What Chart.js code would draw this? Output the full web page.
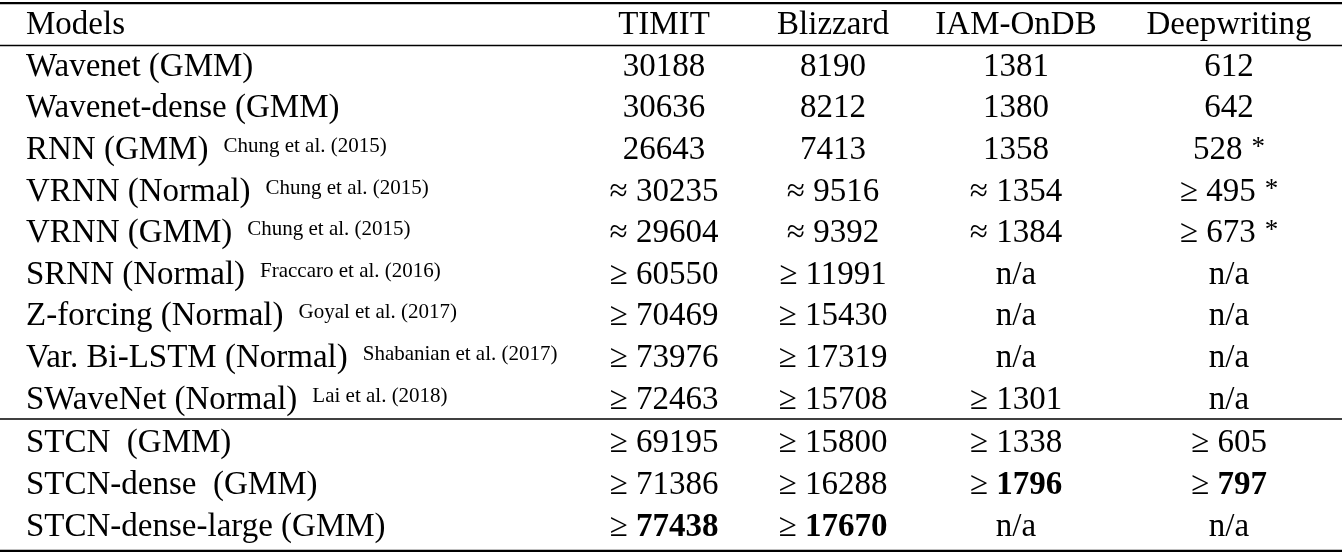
<!DOCTYPE html>
<html>
<head>
<meta charset="utf-8">
<script src="https://cdn.jsdelivr.net/npm/chart.js@4.4.0/dist/chart.umd.min.js"></script>
<style>
  html, body { margin: 0; padding: 0; background: #fff; }
  #wrap { width: 1342px; height: 554px; }
</style>
</head>
<body>
<div id="wrap"><canvas id="myChart" width="1342" height="554"></canvas></div>
<script>
// table content
var headers = ['Models', 'TIMIT', 'Blizzard', 'IAM-OnDB', 'Deepwriting'];

var models = [
  'Wavenet (GMM)', 'Wavenet-dense (GMM)', 'RNN (GMM)', 'VRNN (Normal)',
  'VRNN (GMM)', 'SRNN (Normal)', 'Z-forcing (Normal)', 'Var. Bi-LSTM (Normal)',
  'SWaveNet (Normal)', 'STCN  (GMM)', 'STCN-dense  (GMM)', 'STCN-dense-large (GMM)'
];
var citations = [
  '', '', 'Chung et al. (2015)', 'Chung et al. (2015)',
  'Chung et al. (2015)', 'Fraccaro et al. (2016)', 'Goyal et al. (2017)', 'Shabanian et al. (2017)',
  'Lai et al. (2018)', '', '', ''
];

var timit     = [30188, 30636, 26643, 30235, 29604, 60550, 70469, 73976, 72463, 69195, 71386, 77438];
var timitSign = ['', '', '', '≈', '≈', '≥', '≥', '≥', '≥', '≥', '≥', '≥'];

var blizzard     = [8190, 8212, 7413, 9516, 9392, 11991, 15430, 17319, 15708, 15800, 16288, 17670];
var blizzardSign = ['', '', '', '≈', '≈', '≥', '≥', '≥', '≥', '≥', '≥', '≥'];

var iam     = [1381, 1380, 1358, 1354, 1384, null, null, null, 1301, 1338, 1796, null];
var iamSign = ['', '', '', '≈', '≈', '', '', '', '≥', '≥', '≥', ''];

var deepwriting     = [612, 642, 528, 495, 673, null, null, null, null, 605, 797, null];
var deepwritingSign = ['', '', '', '≥', '≥', '', '', '', '', '≥', '≥', ''];
var deepwritingStar = [false, false, true, true, true, false, false, false, false, false, false, false];

// best result per column (row index, shown in bold)
var timitBest = 11, blizzardBest = 11, iamBest = 10, deepwritingBest = 10;

// layout
var W = 1342, H = 554;
var FONT = '"Liberation Serif", "Times New Roman", serif';
var MAIN = 33, SMALL = 21, STAR = 27;
var colX = [26, 664, 833, 1016, 1229];
var rowStep = 41.6, firstRowPx = 23;
var groupShift = 0.05;    // extra room below the midrule
var rules = [
  { at: -0.48, w: 2.2 },
  { at: 0.54, w: 1.4 },
  { at: 9.52, w: 1.4 },
  { at: 12.69, w: 2.2 }
];

function rowValue(i) {
  // header is row 0, body rows start at 1
  var r = i + 1;
  return r >= 10 ? r + groupShift : r;
}

function numCell(v, sign, bold, star) {
  if (v === null) return [{ t: 'n/a' }];
  var runs = [];
  if (sign) runs.push({ t: sign + ' ' });
  runs.push({ t: String(v), bold: bold });
  if (star) runs.push({ t: '*', size: STAR, gap: 9, rise: 4 });
  return runs;
}

function column(label, x, align, cells) {
  var pts = [{ x: x, y: 0 }];
  var all = [[{ t: label }]];
  cells.forEach(function (c, i) {
    pts.push({ x: x, y: rowValue(i) });
    all.push(c);
  });
  return { label: label, data: pts, cells: all, align: align, pointRadius: 0, showLine: false };
}

var datasets = [
  column(headers[0], colX[0], 'left', models.map(function (m, i) {
    var runs = [{ t: m }];
    if (citations[i]) runs.push({ t: citations[i], size: SMALL, gap: 15, rise: 7 });
    return runs;
  })),
  column(headers[1], colX[1], 'center', timit.map(function (v, i) {
    return numCell(v, timitSign[i], i === timitBest, false);
  })),
  column(headers[2], colX[2], 'center', blizzard.map(function (v, i) {
    return numCell(v, blizzardSign[i], i === blizzardBest, false);
  })),
  column(headers[3], colX[3], 'center', iam.map(function (v, i) {
    return numCell(v, iamSign[i], i === iamBest, false);
  })),
  column(headers[4], colX[4], 'center', deepwriting.map(function (v, i) {
    return numCell(v, deepwritingSign[i], i === deepwritingBest, deepwritingStar[i]);
  }))
];

function setFont(ctx, run) {
  ctx.font = (run.bold ? 'bold ' : '') + (run.size || MAIN) + 'px ' + FONT;
}

function drawCell(ctx, x, y, runs, align) {
  var total = 0;
  runs.forEach(function (run) {
    setFont(ctx, run);
    run.w = ctx.measureText(run.t).width;
    total += (run.gap || 0) + run.w;
  });
  var cx = align === 'center' ? x - total / 2 : x;
  var baseline = y + MAIN * 0.34;
  runs.forEach(function (run) {
    cx += run.gap || 0;
    setFont(ctx, run);
    ctx.fillText(run.t, cx, baseline - (run.rise || 0));
    cx += run.w;
  });
}

var tablePlugin = {
  id: 'tableText',
  afterDatasetsDraw: function (chart) {
    var ctx = chart.ctx;
    var xs = chart.scales.x, ys = chart.scales.y;
    ctx.save();
    ctx.strokeStyle = '#000';
    rules.forEach(function (r) {
      var py = ys.getPixelForValue(r.at);
      ctx.lineWidth = r.w;
      ctx.beginPath();
      ctx.moveTo(xs.getPixelForValue(0), py);
      ctx.lineTo(xs.getPixelForValue(W), py);
      ctx.stroke();
    });
    ctx.fillStyle = '#000';
    ctx.textBaseline = 'alphabetic';
    ctx.textAlign = 'left';
    chart.data.datasets.forEach(function (ds, di) {
      var meta = chart.getDatasetMeta(di);
      meta.data.forEach(function (pt, i) {
        drawCell(ctx, pt.x, pt.y, ds.cells[i], ds.align);
      });
    });
    ctx.restore();
  }
};

var ctx = document.getElementById('myChart').getContext('2d');
var yMin = -firstRowPx / rowStep;
var myChart = new Chart(ctx, {
  type: 'scatter',
  data: { datasets: datasets },
  options: {
    responsive: false,
    animation: false,
    layout: { padding: 0 },
    plugins: { legend: { display: false }, tooltip: { enabled: false } },
    scales: {
      x: { type: 'linear', min: 0, max: W, display: false },
      y: { type: 'linear', min: yMin, max: yMin + H / rowStep, reverse: true, display: false }
    }
  },
  plugins: [tablePlugin]
});
</script>
</body>
</html>
